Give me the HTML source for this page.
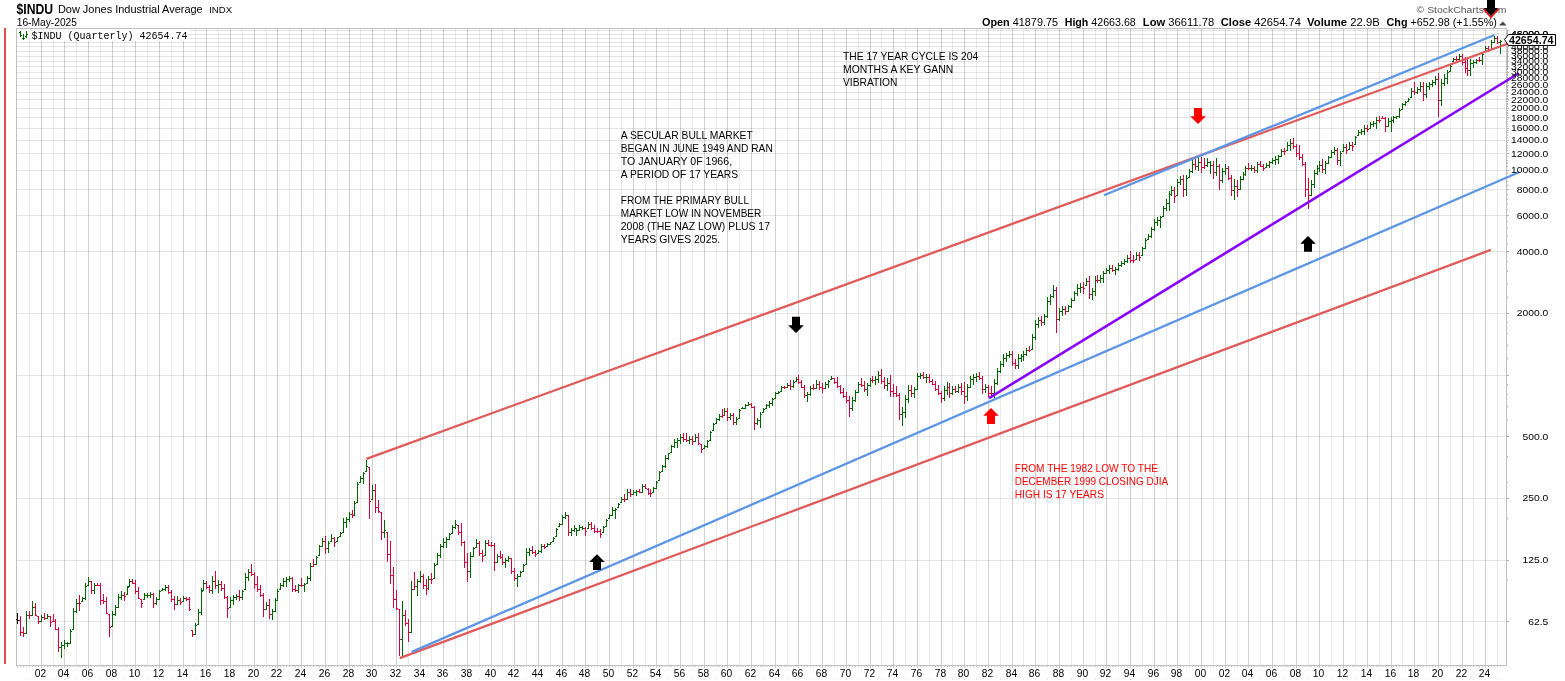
<!DOCTYPE html><html><head><meta charset="utf-8"><style>
html,body{margin:0;padding:0;background:#fff;width:1565px;height:681px;overflow:hidden}
svg{display:block;will-change:transform}
text{font-family:"Liberation Sans",sans-serif}
</style></head><body>
<svg width="1565" height="681" viewBox="0 0 1565 681">
<rect width="1565" height="681" fill="#fff"/>
<path d="M29 29h1v636h-1z M53 29h1v636h-1z M76 29h1v636h-1z M100 29h1v636h-1z M124 29h1v636h-1z M147 29h1v636h-1z M171 29h1v636h-1z M195 29h1v636h-1z M218 29h1v636h-1z M242 29h1v636h-1z M266 29h1v636h-1z M289 29h1v636h-1z M313 29h1v636h-1z M337 29h1v636h-1z M360 29h1v636h-1z M384 29h1v636h-1z M408 29h1v636h-1z M431 29h1v636h-1z M455 29h1v636h-1z M479 29h1v636h-1z M502 29h1v636h-1z M526 29h1v636h-1z M550 29h1v636h-1z M574 29h1v636h-1z M597 29h1v636h-1z M621 29h1v636h-1z M645 29h1v636h-1z M668 29h1v636h-1z M692 29h1v636h-1z M716 29h1v636h-1z M739 29h1v636h-1z M763 29h1v636h-1z M787 29h1v636h-1z M810 29h1v636h-1z M834 29h1v636h-1z M858 29h1v636h-1z M881 29h1v636h-1z M905 29h1v636h-1z M929 29h1v636h-1z M952 29h1v636h-1z M976 29h1v636h-1z M1000 29h1v636h-1z M1023 29h1v636h-1z M1047 29h1v636h-1z M1071 29h1v636h-1z M1095 29h1v636h-1z M1118 29h1v636h-1z M1142 29h1v636h-1z M1166 29h1v636h-1z M1189 29h1v636h-1z M1213 29h1v636h-1z M1237 29h1v636h-1z M1260 29h1v636h-1z M1284 29h1v636h-1z M1308 29h1v636h-1z M1331 29h1v636h-1z M1355 29h1v636h-1z M1379 29h1v636h-1z M1402 29h1v636h-1z M1426 29h1v636h-1z M1450 29h1v636h-1z M1473 29h1v636h-1z M1497 29h1v636h-1z" fill="#000" fill-opacity="0.08"/>
<path d="M41 29h1v636h-1z M64 29h1v636h-1z M88 29h1v636h-1z M112 29h1v636h-1z M135 29h1v636h-1z M159 29h1v636h-1z M183 29h1v636h-1z M206 29h1v636h-1z M230 29h1v636h-1z M254 29h1v636h-1z M277 29h1v636h-1z M301 29h1v636h-1z M325 29h1v636h-1z M349 29h1v636h-1z M372 29h1v636h-1z M396 29h1v636h-1z M420 29h1v636h-1z M443 29h1v636h-1z M467 29h1v636h-1z M491 29h1v636h-1z M514 29h1v636h-1z M538 29h1v636h-1z M562 29h1v636h-1z M585 29h1v636h-1z M609 29h1v636h-1z M633 29h1v636h-1z M656 29h1v636h-1z M680 29h1v636h-1z M704 29h1v636h-1z M727 29h1v636h-1z M751 29h1v636h-1z M775 29h1v636h-1z M798 29h1v636h-1z M822 29h1v636h-1z M846 29h1v636h-1z M870 29h1v636h-1z M893 29h1v636h-1z M917 29h1v636h-1z M941 29h1v636h-1z M964 29h1v636h-1z M988 29h1v636h-1z M1012 29h1v636h-1z M1035 29h1v636h-1z M1059 29h1v636h-1z M1083 29h1v636h-1z M1106 29h1v636h-1z M1130 29h1v636h-1z M1154 29h1v636h-1z M1177 29h1v636h-1z M1201 29h1v636h-1z M1225 29h1v636h-1z M1248 29h1v636h-1z M1272 29h1v636h-1z M1296 29h1v636h-1z M1319 29h1v636h-1z M1343 29h1v636h-1z M1367 29h1v636h-1z M1391 29h1v636h-1z M1414 29h1v636h-1z M1438 29h1v636h-1z M1462 29h1v636h-1z M1485 29h1v636h-1z" fill="#000" fill-opacity="0.18"/>
<path d="M17 621h1489v1h-1489z M17 560h1489v1h-1489z M17 498h1489v1h-1489z M17 436h1489v1h-1489z M17 375h1489v1h-1489z M17 313h1489v1h-1489z M17 251h1489v1h-1489z M17 215h1489v1h-1489z M17 189h1489v1h-1489z M17 170h1489v1h-1489z M17 153h1489v1h-1489z M17 140h1489v1h-1489z M17 128h1489v1h-1489z M17 117h1489v1h-1489z M17 108h1489v1h-1489z M17 99h1489v1h-1489z M17 92h1489v1h-1489z M17 85h1489v1h-1489z M17 78h1489v1h-1489z M17 72h1489v1h-1489z M17 66h1489v1h-1489z M17 61h1489v1h-1489z M17 56h1489v1h-1489z M17 51h1489v1h-1489z M17 46h1489v1h-1489z M17 42h1489v1h-1489z M17 38h1489v1h-1489z M17 34h1489v1h-1489z M17 30h1489v1h-1489z" fill="#000" fill-opacity="0.10"/>
<path d="M16 28h1491v638h-1491z M17 29v636h1489v-636z" fill="#c0c0c0" fill-rule="evenodd"/>
<path d="M17 666h1v1h-1z M20 666h1v1h-1z M23 666h1v1h-1z M26 666h1v1h-1z M29 666h1v1h-1z M32 666h1v1h-1z M35 666h1v1h-1z M38 666h1v1h-1z M41 666h1v1h-1z M44 666h1v1h-1z M47 666h1v1h-1z M50 666h1v1h-1z M53 666h1v1h-1z M55 666h1v1h-1z M58 666h1v1h-1z M61 666h1v1h-1z M64 666h1v1h-1z M67 666h1v1h-1z M70 666h1v1h-1z M73 666h1v1h-1z M76 666h1v1h-1z M79 666h1v1h-1z M82 666h1v1h-1z M85 666h1v1h-1z M88 666h1v1h-1z M91 666h1v1h-1z M94 666h1v1h-1z M97 666h1v1h-1z M100 666h1v1h-1z M103 666h1v1h-1z M106 666h1v1h-1z M109 666h1v1h-1z M112 666h1v1h-1z M115 666h1v1h-1z M118 666h1v1h-1z M121 666h1v1h-1z M124 666h1v1h-1z M127 666h1v1h-1z M129 666h1v1h-1z M132 666h1v1h-1z M135 666h1v1h-1z M138 666h1v1h-1z M141 666h1v1h-1z M144 666h1v1h-1z M147 666h1v1h-1z M150 666h1v1h-1z M153 666h1v1h-1z M156 666h1v1h-1z M159 666h1v1h-1z M162 666h1v1h-1z M165 666h1v1h-1z M168 666h1v1h-1z M171 666h1v1h-1z M174 666h1v1h-1z M177 666h1v1h-1z M180 666h1v1h-1z M183 666h1v1h-1z M186 666h1v1h-1z M189 666h1v1h-1z M192 666h1v1h-1z M195 666h1v1h-1z M198 666h1v1h-1z M201 666h1v1h-1z M203 666h1v1h-1z M206 666h1v1h-1z M209 666h1v1h-1z M212 666h1v1h-1z M215 666h1v1h-1z M218 666h1v1h-1z M221 666h1v1h-1z M224 666h1v1h-1z M227 666h1v1h-1z M230 666h1v1h-1z M233 666h1v1h-1z M236 666h1v1h-1z M239 666h1v1h-1z M242 666h1v1h-1z M245 666h1v1h-1z M248 666h1v1h-1z M251 666h1v1h-1z M254 666h1v1h-1z M257 666h1v1h-1z M260 666h1v1h-1z M263 666h1v1h-1z M266 666h1v1h-1z M269 666h1v1h-1z M272 666h1v1h-1z M275 666h1v1h-1z M277 666h1v1h-1z M280 666h1v1h-1z M283 666h1v1h-1z M286 666h1v1h-1z M289 666h1v1h-1z M292 666h1v1h-1z M295 666h1v1h-1z M298 666h1v1h-1z M301 666h1v1h-1z M304 666h1v1h-1z M307 666h1v1h-1z M310 666h1v1h-1z M313 666h1v1h-1z M316 666h1v1h-1z M319 666h1v1h-1z M322 666h1v1h-1z M325 666h1v1h-1z M328 666h1v1h-1z M331 666h1v1h-1z M334 666h1v1h-1z M337 666h1v1h-1z M340 666h1v1h-1z M343 666h1v1h-1z M346 666h1v1h-1z M349 666h1v1h-1z M352 666h1v1h-1z M354 666h1v1h-1z M357 666h1v1h-1z M360 666h1v1h-1z M363 666h1v1h-1z M366 666h1v1h-1z M369 666h1v1h-1z M372 666h1v1h-1z M375 666h1v1h-1z M378 666h1v1h-1z M381 666h1v1h-1z M384 666h1v1h-1z M387 666h1v1h-1z M390 666h1v1h-1z M393 666h1v1h-1z M396 666h1v1h-1z M399 666h1v1h-1z M402 666h1v1h-1z M405 666h1v1h-1z M408 666h1v1h-1z M411 666h1v1h-1z M414 666h1v1h-1z M417 666h1v1h-1z M420 666h1v1h-1z M423 666h1v1h-1z M426 666h1v1h-1z M428 666h1v1h-1z M431 666h1v1h-1z M434 666h1v1h-1z M437 666h1v1h-1z M440 666h1v1h-1z M443 666h1v1h-1z M446 666h1v1h-1z M449 666h1v1h-1z M452 666h1v1h-1z M455 666h1v1h-1z M458 666h1v1h-1z M461 666h1v1h-1z M464 666h1v1h-1z M467 666h1v1h-1z M470 666h1v1h-1z M473 666h1v1h-1z M476 666h1v1h-1z M479 666h1v1h-1z M482 666h1v1h-1z M485 666h1v1h-1z M488 666h1v1h-1z M491 666h1v1h-1z M494 666h1v1h-1z M497 666h1v1h-1z M500 666h1v1h-1z M502 666h1v1h-1z M505 666h1v1h-1z M508 666h1v1h-1z M511 666h1v1h-1z M514 666h1v1h-1z M517 666h1v1h-1z M520 666h1v1h-1z M523 666h1v1h-1z M526 666h1v1h-1z M529 666h1v1h-1z M532 666h1v1h-1z M535 666h1v1h-1z M538 666h1v1h-1z M541 666h1v1h-1z M544 666h1v1h-1z M547 666h1v1h-1z M550 666h1v1h-1z M553 666h1v1h-1z M556 666h1v1h-1z M559 666h1v1h-1z M562 666h1v1h-1z M565 666h1v1h-1z M568 666h1v1h-1z M571 666h1v1h-1z M574 666h1v1h-1z M576 666h1v1h-1z M579 666h1v1h-1z M582 666h1v1h-1z M585 666h1v1h-1z M588 666h1v1h-1z M591 666h1v1h-1z M594 666h1v1h-1z M597 666h1v1h-1z M600 666h1v1h-1z M603 666h1v1h-1z M606 666h1v1h-1z M609 666h1v1h-1z M612 666h1v1h-1z M615 666h1v1h-1z M618 666h1v1h-1z M621 666h1v1h-1z M624 666h1v1h-1z M627 666h1v1h-1z M630 666h1v1h-1z M633 666h1v1h-1z M636 666h1v1h-1z M639 666h1v1h-1z M642 666h1v1h-1z M645 666h1v1h-1z M648 666h1v1h-1z M650 666h1v1h-1z M653 666h1v1h-1z M656 666h1v1h-1z M659 666h1v1h-1z M662 666h1v1h-1z M665 666h1v1h-1z M668 666h1v1h-1z M671 666h1v1h-1z M674 666h1v1h-1z M677 666h1v1h-1z M680 666h1v1h-1z M683 666h1v1h-1z M686 666h1v1h-1z M689 666h1v1h-1z M692 666h1v1h-1z M695 666h1v1h-1z M698 666h1v1h-1z M701 666h1v1h-1z M704 666h1v1h-1z M707 666h1v1h-1z M710 666h1v1h-1z M713 666h1v1h-1z M716 666h1v1h-1z M719 666h1v1h-1z M722 666h1v1h-1z M724 666h1v1h-1z M727 666h1v1h-1z M730 666h1v1h-1z M733 666h1v1h-1z M736 666h1v1h-1z M739 666h1v1h-1z M742 666h1v1h-1z M745 666h1v1h-1z M748 666h1v1h-1z M751 666h1v1h-1z M754 666h1v1h-1z M757 666h1v1h-1z M760 666h1v1h-1z M763 666h1v1h-1z M766 666h1v1h-1z M769 666h1v1h-1z M772 666h1v1h-1z M775 666h1v1h-1z M778 666h1v1h-1z M781 666h1v1h-1z M784 666h1v1h-1z M787 666h1v1h-1z M790 666h1v1h-1z M793 666h1v1h-1z M796 666h1v1h-1z M798 666h1v1h-1z M801 666h1v1h-1z M804 666h1v1h-1z M807 666h1v1h-1z M810 666h1v1h-1z M813 666h1v1h-1z M816 666h1v1h-1z M819 666h1v1h-1z M822 666h1v1h-1z M825 666h1v1h-1z M828 666h1v1h-1z M831 666h1v1h-1z M834 666h1v1h-1z M837 666h1v1h-1z M840 666h1v1h-1z M843 666h1v1h-1z M846 666h1v1h-1z M849 666h1v1h-1z M852 666h1v1h-1z M855 666h1v1h-1z M858 666h1v1h-1z M861 666h1v1h-1z M864 666h1v1h-1z M867 666h1v1h-1z M870 666h1v1h-1z M872 666h1v1h-1z M875 666h1v1h-1z M878 666h1v1h-1z M881 666h1v1h-1z M884 666h1v1h-1z M887 666h1v1h-1z M890 666h1v1h-1z M893 666h1v1h-1z M896 666h1v1h-1z M899 666h1v1h-1z M902 666h1v1h-1z M905 666h1v1h-1z M908 666h1v1h-1z M911 666h1v1h-1z M914 666h1v1h-1z M917 666h1v1h-1z M920 666h1v1h-1z M923 666h1v1h-1z M926 666h1v1h-1z M929 666h1v1h-1z M932 666h1v1h-1z M935 666h1v1h-1z M938 666h1v1h-1z M941 666h1v1h-1z M944 666h1v1h-1z M947 666h1v1h-1z M949 666h1v1h-1z M952 666h1v1h-1z M955 666h1v1h-1z M958 666h1v1h-1z M961 666h1v1h-1z M964 666h1v1h-1z M967 666h1v1h-1z M970 666h1v1h-1z M973 666h1v1h-1z M976 666h1v1h-1z M979 666h1v1h-1z M982 666h1v1h-1z M985 666h1v1h-1z M988 666h1v1h-1z M991 666h1v1h-1z M994 666h1v1h-1z M997 666h1v1h-1z M1000 666h1v1h-1z M1003 666h1v1h-1z M1006 666h1v1h-1z M1009 666h1v1h-1z M1012 666h1v1h-1z M1015 666h1v1h-1z M1018 666h1v1h-1z M1021 666h1v1h-1z M1023 666h1v1h-1z M1026 666h1v1h-1z M1029 666h1v1h-1z M1032 666h1v1h-1z M1035 666h1v1h-1z M1038 666h1v1h-1z M1041 666h1v1h-1z M1044 666h1v1h-1z M1047 666h1v1h-1z M1050 666h1v1h-1z M1053 666h1v1h-1z M1056 666h1v1h-1z M1059 666h1v1h-1z M1062 666h1v1h-1z M1065 666h1v1h-1z M1068 666h1v1h-1z M1071 666h1v1h-1z M1074 666h1v1h-1z M1077 666h1v1h-1z M1080 666h1v1h-1z M1083 666h1v1h-1z M1086 666h1v1h-1z M1089 666h1v1h-1z M1092 666h1v1h-1z M1095 666h1v1h-1z M1097 666h1v1h-1z M1100 666h1v1h-1z M1103 666h1v1h-1z M1106 666h1v1h-1z M1109 666h1v1h-1z M1112 666h1v1h-1z M1115 666h1v1h-1z M1118 666h1v1h-1z M1121 666h1v1h-1z M1124 666h1v1h-1z M1127 666h1v1h-1z M1130 666h1v1h-1z M1133 666h1v1h-1z M1136 666h1v1h-1z M1139 666h1v1h-1z M1142 666h1v1h-1z M1145 666h1v1h-1z M1148 666h1v1h-1z M1151 666h1v1h-1z M1154 666h1v1h-1z M1157 666h1v1h-1z M1160 666h1v1h-1z M1163 666h1v1h-1z M1166 666h1v1h-1z M1169 666h1v1h-1z M1171 666h1v1h-1z M1174 666h1v1h-1z M1177 666h1v1h-1z M1180 666h1v1h-1z M1183 666h1v1h-1z M1186 666h1v1h-1z M1189 666h1v1h-1z M1192 666h1v1h-1z M1195 666h1v1h-1z M1198 666h1v1h-1z M1201 666h1v1h-1z M1204 666h1v1h-1z M1207 666h1v1h-1z M1210 666h1v1h-1z M1213 666h1v1h-1z M1216 666h1v1h-1z M1219 666h1v1h-1z M1222 666h1v1h-1z M1225 666h1v1h-1z M1228 666h1v1h-1z M1231 666h1v1h-1z M1234 666h1v1h-1z M1237 666h1v1h-1z M1240 666h1v1h-1z M1243 666h1v1h-1z M1245 666h1v1h-1z M1248 666h1v1h-1z M1251 666h1v1h-1z M1254 666h1v1h-1z M1257 666h1v1h-1z M1260 666h1v1h-1z M1263 666h1v1h-1z M1266 666h1v1h-1z M1269 666h1v1h-1z M1272 666h1v1h-1z M1275 666h1v1h-1z M1278 666h1v1h-1z M1281 666h1v1h-1z M1284 666h1v1h-1z M1287 666h1v1h-1z M1290 666h1v1h-1z M1293 666h1v1h-1z M1296 666h1v1h-1z M1299 666h1v1h-1z M1302 666h1v1h-1z M1305 666h1v1h-1z M1308 666h1v1h-1z M1311 666h1v1h-1z M1314 666h1v1h-1z M1317 666h1v1h-1z M1319 666h1v1h-1z M1322 666h1v1h-1z M1325 666h1v1h-1z M1328 666h1v1h-1z M1331 666h1v1h-1z M1334 666h1v1h-1z M1337 666h1v1h-1z M1340 666h1v1h-1z M1343 666h1v1h-1z M1346 666h1v1h-1z M1349 666h1v1h-1z M1352 666h1v1h-1z M1355 666h1v1h-1z M1358 666h1v1h-1z M1361 666h1v1h-1z M1364 666h1v1h-1z M1367 666h1v1h-1z M1370 666h1v1h-1z M1373 666h1v1h-1z M1376 666h1v1h-1z M1379 666h1v1h-1z M1382 666h1v1h-1z M1385 666h1v1h-1z M1388 666h1v1h-1z M1391 666h1v1h-1z M1393 666h1v1h-1z M1396 666h1v1h-1z M1399 666h1v1h-1z M1402 666h1v1h-1z M1405 666h1v1h-1z M1408 666h1v1h-1z M1411 666h1v1h-1z M1414 666h1v1h-1z M1417 666h1v1h-1z M1420 666h1v1h-1z M1423 666h1v1h-1z M1426 666h1v1h-1z M1429 666h1v1h-1z M1432 666h1v1h-1z M1435 666h1v1h-1z M1438 666h1v1h-1z M1441 666h1v1h-1z M1444 666h1v1h-1z M1447 666h1v1h-1z M1450 666h1v1h-1z M1453 666h1v1h-1z M1456 666h1v1h-1z M1459 666h1v1h-1z M1462 666h1v1h-1z M1465 666h1v1h-1z M1467 666h1v1h-1z M1470 666h1v1h-1z M1473 666h1v1h-1z M1476 666h1v1h-1z M1479 666h1v1h-1z M1482 666h1v1h-1z M1485 666h1v1h-1z M1488 666h1v1h-1z M1491 666h1v1h-1z M1494 666h1v1h-1z M1497 666h1v1h-1z M1500 666h1v1h-1z M17 667h1v1h-1z M41 667h1v1h-1z M64 667h1v1h-1z M88 667h1v1h-1z M112 667h1v1h-1z M135 667h1v1h-1z M159 667h1v1h-1z M183 667h1v1h-1z M206 667h1v1h-1z M230 667h1v1h-1z M254 667h1v1h-1z M277 667h1v1h-1z M301 667h1v1h-1z M325 667h1v1h-1z M349 667h1v1h-1z M372 667h1v1h-1z M396 667h1v1h-1z M420 667h1v1h-1z M443 667h1v1h-1z M467 667h1v1h-1z M491 667h1v1h-1z M514 667h1v1h-1z M538 667h1v1h-1z M562 667h1v1h-1z M585 667h1v1h-1z M609 667h1v1h-1z M633 667h1v1h-1z M656 667h1v1h-1z M680 667h1v1h-1z M704 667h1v1h-1z M727 667h1v1h-1z M751 667h1v1h-1z M775 667h1v1h-1z M798 667h1v1h-1z M822 667h1v1h-1z M846 667h1v1h-1z M870 667h1v1h-1z M893 667h1v1h-1z M917 667h1v1h-1z M941 667h1v1h-1z M964 667h1v1h-1z M988 667h1v1h-1z M1012 667h1v1h-1z M1035 667h1v1h-1z M1059 667h1v1h-1z M1083 667h1v1h-1z M1106 667h1v1h-1z M1130 667h1v1h-1z M1154 667h1v1h-1z M1177 667h1v1h-1z M1201 667h1v1h-1z M1225 667h1v1h-1z M1248 667h1v1h-1z M1272 667h1v1h-1z M1296 667h1v1h-1z M1319 667h1v1h-1z M1343 667h1v1h-1z M1367 667h1v1h-1z M1391 667h1v1h-1z M1414 667h1v1h-1z M1438 667h1v1h-1z M1462 667h1v1h-1z M1485 667h1v1h-1z" fill="#c8c8c8"/>
<path d="M29 679h1v1h-1z M41 679h1v1h-1z M53 679h1v1h-1z M64 679h1v1h-1z M76 679h1v1h-1z M88 679h1v1h-1z M100 679h1v1h-1z M112 679h1v1h-1z M124 679h1v1h-1z M135 679h1v1h-1z M147 679h1v1h-1z M159 679h1v1h-1z M171 679h1v1h-1z M183 679h1v1h-1z M195 679h1v1h-1z M206 679h1v1h-1z M218 679h1v1h-1z M230 679h1v1h-1z M242 679h1v1h-1z M254 679h1v1h-1z M266 679h1v1h-1z M277 679h1v1h-1z M289 679h1v1h-1z M301 679h1v1h-1z M313 679h1v1h-1z M325 679h1v1h-1z M337 679h1v1h-1z M349 679h1v1h-1z M360 679h1v1h-1z M372 679h1v1h-1z M384 679h1v1h-1z M396 679h1v1h-1z M408 679h1v1h-1z M420 679h1v1h-1z M431 679h1v1h-1z M443 679h1v1h-1z M455 679h1v1h-1z M467 679h1v1h-1z M479 679h1v1h-1z M491 679h1v1h-1z M502 679h1v1h-1z M514 679h1v1h-1z M526 679h1v1h-1z M538 679h1v1h-1z M550 679h1v1h-1z M562 679h1v1h-1z M574 679h1v1h-1z M585 679h1v1h-1z M597 679h1v1h-1z M609 679h1v1h-1z M621 679h1v1h-1z M633 679h1v1h-1z M645 679h1v1h-1z M656 679h1v1h-1z M668 679h1v1h-1z M680 679h1v1h-1z M692 679h1v1h-1z M704 679h1v1h-1z M716 679h1v1h-1z M727 679h1v1h-1z M739 679h1v1h-1z M751 679h1v1h-1z M763 679h1v1h-1z M775 679h1v1h-1z M787 679h1v1h-1z M798 679h1v1h-1z M810 679h1v1h-1z M822 679h1v1h-1z M834 679h1v1h-1z M846 679h1v1h-1z M858 679h1v1h-1z M870 679h1v1h-1z M881 679h1v1h-1z M893 679h1v1h-1z M905 679h1v1h-1z M917 679h1v1h-1z M929 679h1v1h-1z M941 679h1v1h-1z M952 679h1v1h-1z M964 679h1v1h-1z M976 679h1v1h-1z M988 679h1v1h-1z M1000 679h1v1h-1z M1012 679h1v1h-1z M1023 679h1v1h-1z M1035 679h1v1h-1z M1047 679h1v1h-1z M1059 679h1v1h-1z M1071 679h1v1h-1z M1083 679h1v1h-1z M1095 679h1v1h-1z M1106 679h1v1h-1z M1118 679h1v1h-1z M1130 679h1v1h-1z M1142 679h1v1h-1z M1154 679h1v1h-1z M1166 679h1v1h-1z M1177 679h1v1h-1z M1189 679h1v1h-1z M1201 679h1v1h-1z M1213 679h1v1h-1z M1225 679h1v1h-1z M1237 679h1v1h-1z M1248 679h1v1h-1z M1260 679h1v1h-1z M1272 679h1v1h-1z M1284 679h1v1h-1z M1296 679h1v1h-1z M1308 679h1v1h-1z M1319 679h1v1h-1z M1331 679h1v1h-1z M1343 679h1v1h-1z M1355 679h1v1h-1z M1367 679h1v1h-1z M1379 679h1v1h-1z M1391 679h1v1h-1z M1402 679h1v1h-1z M1414 679h1v1h-1z M1426 679h1v1h-1z M1438 679h1v1h-1z M1450 679h1v1h-1z M1462 679h1v1h-1z M1473 679h1v1h-1z M1485 679h1v1h-1z M1497 679h1v1h-1z" fill="#e0e0e0"/>
<path d="M1507 621h2v1h-2z M1507 560h2v1h-2z M1507 498h2v1h-2z M1507 436h2v1h-2z M1507 375h2v1h-2z M1507 313h2v1h-2z M1507 251h2v1h-2z M1507 215h2v1h-2z M1507 189h2v1h-2z M1507 170h2v1h-2z M1507 153h2v1h-2z M1507 140h2v1h-2z M1507 128h2v1h-2z M1507 117h2v1h-2z M1507 108h2v1h-2z M1507 99h2v1h-2z M1507 92h2v1h-2z M1507 85h2v1h-2z M1507 78h2v1h-2z M1507 72h2v1h-2z M1507 66h2v1h-2z M1507 61h2v1h-2z M1507 56h2v1h-2z M1507 51h2v1h-2z M1507 46h2v1h-2z M1507 42h2v1h-2z M1507 38h2v1h-2z M1507 34h2v1h-2z M1507 30h2v1h-2z M1507 580h1v1h-1z M1507 518h1v1h-1z M1507 482h1v1h-1z M1507 456h1v1h-1z M1507 518h1v1h-1z M1507 482h1v1h-1z M1507 456h1v1h-1z M1507 436h1v1h-1z M1507 420h1v1h-1z M1507 406h1v1h-1z M1507 394h1v1h-1z M1507 384h1v1h-1z M1507 358h1v1h-1z M1507 345h1v1h-1z M1507 333h1v1h-1z M1507 322h1v1h-1z M1507 297h1v1h-1z M1507 283h1v1h-1z M1507 271h1v1h-1z M1507 261h1v1h-1z M1507 251h1v1h-1z M1507 243h1v1h-1z M1507 235h1v1h-1z M1507 228h1v1h-1z M1507 221h1v1h-1z M1507 215h1v1h-1z M1507 209h1v1h-1z M1507 204h1v1h-1z M1507 199h1v1h-1z M1507 194h1v1h-1z M1507 189h1v1h-1z M1507 185h1v1h-1z M1507 181h1v1h-1z M1507 177h1v1h-1z M1507 173h1v1h-1z M1507 170h1v1h-1z M1507 166h1v1h-1z M1507 163h1v1h-1z M1507 160h1v1h-1z M1507 156h1v1h-1z M1507 153h1v1h-1z M1507 150h1v1h-1z M1507 148h1v1h-1z M1507 145h1v1h-1z M1507 142h1v1h-1z M1507 140h1v1h-1z M1507 137h1v1h-1z M1507 135h1v1h-1z M1507 132h1v1h-1z M1507 130h1v1h-1z M1507 128h1v1h-1z M1507 126h1v1h-1z M1507 123h1v1h-1z M1507 121h1v1h-1z M1507 119h1v1h-1z M1507 117h1v1h-1z M1507 115h1v1h-1z M1507 113h1v1h-1z M1507 112h1v1h-1z M1507 110h1v1h-1z M1507 108h1v1h-1z M1507 106h1v1h-1z M1507 104h1v1h-1z M1507 103h1v1h-1z M1507 101h1v1h-1z M1507 99h1v1h-1z M1507 98h1v1h-1z M1507 96h1v1h-1z M1507 95h1v1h-1z M1507 93h1v1h-1z M1507 92h1v1h-1z M1507 90h1v1h-1z M1507 89h1v1h-1z M1507 87h1v1h-1z M1507 86h1v1h-1z M1507 85h1v1h-1z M1507 83h1v1h-1z M1507 82h1v1h-1z M1507 81h1v1h-1z M1507 79h1v1h-1z M1507 78h1v1h-1z M1507 77h1v1h-1z M1507 75h1v1h-1z M1507 74h1v1h-1z M1507 73h1v1h-1z M1507 72h1v1h-1z M1507 71h1v1h-1z M1507 69h1v1h-1z M1507 68h1v1h-1z M1507 67h1v1h-1z M1507 66h1v1h-1z M1507 65h1v1h-1z M1507 64h1v1h-1z M1507 63h1v1h-1z M1507 62h1v1h-1z M1507 61h1v1h-1z M1507 60h1v1h-1z M1507 59h1v1h-1z M1507 58h1v1h-1z M1507 57h1v1h-1z M1507 56h1v1h-1z M1507 55h1v1h-1z M1507 54h1v1h-1z M1507 53h1v1h-1z M1507 52h1v1h-1z M1507 51h1v1h-1z M1507 50h1v1h-1z M1507 49h1v1h-1z M1507 48h1v1h-1z M1507 47h1v1h-1z M1507 46h1v1h-1z M1507 45h1v1h-1z M1507 44h1v1h-1z M1507 44h1v1h-1z M1507 43h1v1h-1z M1507 42h1v1h-1z M1507 41h1v1h-1z M1507 40h1v1h-1z M1507 39h1v1h-1z M1507 39h1v1h-1z M1507 38h1v1h-1z M1507 37h1v1h-1z M1507 36h1v1h-1z M1507 35h1v1h-1z M1507 35h1v1h-1z M1507 34h1v1h-1z M1507 33h1v1h-1z M1507 32h1v1h-1z M1507 31h1v1h-1z M1507 31h1v1h-1z" fill="#b0b0b0"/>
<path d="M26 611h1v23h-1z M25 633h1v1h-1z M27 615h1v1h-1z M32 601h1v15h-1z M31 615h1v1h-1z M33 607h1v1h-1z M41 615h1v7h-1z M40 621h1v1h-1z M42 617h1v1h-1z M47 614h1v5h-1z M46 618h1v1h-1z M48 616h1v1h-1z M61 642h1v16h-1z M60 647h1v1h-1z M62 645h1v1h-1z M64 640h1v9h-1z M63 645h1v1h-1z M65 643h1v1h-1z M67 642h1v5h-1z M66 643h1v1h-1z M68 643h1v1h-1z M70 629h1v15h-1z M69 643h1v1h-1z M71 631h1v1h-1z M73 608h1v22h-1z M72 629h1v1h-1z M74 611h1v1h-1z M76 599h1v14h-1z M75 611h1v1h-1z M77 603h1v1h-1z M82 597h1v5h-1z M81 601h1v1h-1z M83 598h1v1h-1z M85 583h1v17h-1z M84 598h1v1h-1z M86 586h1v1h-1z M88 577h1v9h-1z M87 585h1v1h-1z M89 581h1v1h-1z M94 583h1v11h-1z M93 590h1v1h-1z M95 585h1v1h-1z M112 611h1v16h-1z M111 626h1v1h-1z M113 614h1v1h-1z M115 605h1v11h-1z M114 614h1v1h-1z M116 607h1v1h-1z M118 594h1v14h-1z M117 607h1v1h-1z M119 597h1v1h-1z M121 591h1v9h-1z M120 597h1v1h-1z M122 595h1v1h-1z M127 586h1v9h-1z M126 594h1v1h-1z M128 587h1v1h-1z M129 579h1v8h-1z M128 586h1v1h-1z M130 581h1v1h-1z M144 593h1v7h-1z M143 599h1v1h-1z M145 595h1v1h-1z M147 593h1v5h-1z M146 595h1v1h-1z M148 595h1v1h-1z M150 592h1v6h-1z M149 595h1v1h-1z M151 594h1v1h-1z M156 597h1v8h-1z M155 603h1v1h-1z M157 599h1v1h-1z M159 590h1v10h-1z M158 599h1v1h-1z M160 591h1v1h-1z M162 588h1v3h-1z M161 590h1v1h-1z M163 589h1v1h-1z M165 585h1v6h-1z M164 589h1v1h-1z M166 587h1v1h-1z M177 596h1v9h-1z M176 604h1v1h-1z M178 600h1v1h-1z M183 596h1v6h-1z M182 601h1v1h-1z M184 598h1v1h-1z M195 623h1v12h-1z M194 634h1v1h-1z M196 625h1v1h-1z M198 609h1v16h-1z M197 624h1v1h-1z M199 612h1v1h-1z M201 588h1v27h-1z M200 612h1v1h-1z M202 591h1v1h-1z M203 580h1v11h-1z M202 590h1v1h-1z M204 583h1v1h-1z M212 576h1v18h-1z M211 590h1v1h-1z M213 581h1v1h-1z M218 580h1v13h-1z M217 585h1v1h-1z M219 584h1v1h-1z M230 597h1v11h-1z M229 607h1v1h-1z M231 600h1v1h-1z M233 595h1v10h-1z M232 600h1v1h-1z M234 597h1v1h-1z M236 594h1v6h-1z M235 597h1v1h-1z M237 596h1v1h-1z M242 590h1v10h-1z M241 597h1v1h-1z M243 591h1v1h-1z M245 573h1v17h-1z M244 589h1v1h-1z M246 577h1v1h-1z M248 569h1v12h-1z M247 577h1v1h-1z M249 572h1v1h-1z M266 602h1v8h-1z M265 609h1v1h-1z M267 605h1v1h-1z M272 609h1v11h-1z M271 614h1v1h-1z M273 611h1v1h-1z M275 598h1v14h-1z M274 611h1v1h-1z M276 600h1v1h-1z M277 589h1v12h-1z M276 600h1v1h-1z M278 591h1v1h-1z M280 583h1v7h-1z M279 589h1v1h-1z M281 585h1v1h-1z M283 578h1v9h-1z M282 585h1v1h-1z M284 581h1v1h-1z M286 577h1v10h-1z M285 581h1v1h-1z M287 579h1v1h-1z M289 576h1v6h-1z M288 579h1v1h-1z M290 578h1v1h-1z M298 584h1v9h-1z M297 590h1v1h-1z M299 585h1v1h-1z M304 583h1v9h-1z M303 585h1v1h-1z M305 584h1v1h-1z M307 576h1v8h-1z M306 583h1v1h-1z M308 578h1v1h-1z M310 563h1v18h-1z M309 578h1v1h-1z M311 566h1v1h-1z M316 556h1v9h-1z M315 564h1v1h-1z M317 557h1v1h-1z M319 545h1v11h-1z M318 555h1v1h-1z M320 546h1v1h-1z M322 538h1v9h-1z M321 546h1v1h-1z M323 541h1v1h-1z M328 541h1v12h-1z M327 548h1v1h-1z M329 543h1v1h-1z M331 534h1v8h-1z M330 541h1v1h-1z M332 538h1v1h-1z M337 537h1v5h-1z M336 541h1v1h-1z M338 537h1v1h-1z M340 532h1v5h-1z M339 536h1v1h-1z M341 533h1v1h-1z M343 518h1v15h-1z M342 532h1v1h-1z M344 522h1v1h-1z M346 517h1v11h-1z M345 522h1v1h-1z M347 519h1v1h-1z M349 512h1v10h-1z M348 519h1v1h-1z M350 514h1v1h-1z M354 501h1v15h-1z M353 515h1v1h-1z M355 503h1v1h-1z M357 482h1v21h-1z M356 502h1v1h-1z M358 484h1v1h-1z M360 476h1v7h-1z M359 482h1v1h-1z M361 478h1v1h-1z M363 472h1v12h-1z M362 478h1v1h-1z M364 473h1v1h-1z M366 460h1v12h-1z M365 471h1v1h-1z M367 466h1v1h-1z M372 485h1v15h-1z M371 499h1v1h-1z M373 490h1v1h-1z M384 520h1v18h-1z M383 532h1v1h-1z M385 530h1v1h-1z M402 601h1v56h-1z M401 639h1v1h-1z M403 615h1v1h-1z M411 581h1v52h-1z M410 632h1v1h-1z M412 589h1v1h-1z M417 579h1v17h-1z M416 586h1v1h-1z M418 581h1v1h-1z M420 571h1v12h-1z M419 581h1v1h-1z M421 576h1v1h-1z M428 576h1v14h-1z M427 588h1v1h-1z M429 579h1v1h-1z M434 563h1v16h-1z M433 578h1v1h-1z M435 565h1v1h-1z M437 553h1v12h-1z M436 564h1v1h-1z M438 555h1v1h-1z M440 544h1v14h-1z M439 555h1v1h-1z M441 546h1v1h-1z M443 538h1v10h-1z M442 546h1v1h-1z M444 542h1v1h-1z M446 537h1v11h-1z M445 542h1v1h-1z M447 539h1v1h-1z M449 533h1v7h-1z M448 539h1v1h-1z M450 534h1v1h-1z M452 525h1v9h-1z M451 533h1v1h-1z M453 527h1v1h-1z M455 520h1v9h-1z M454 527h1v1h-1z M456 524h1v1h-1z M470 552h1v26h-1z M469 571h1v1h-1z M471 556h1v1h-1z M473 547h1v10h-1z M472 556h1v1h-1z M474 548h1v1h-1z M476 539h1v9h-1z M475 547h1v1h-1z M477 543h1v1h-1z M485 540h1v16h-1z M484 555h1v1h-1z M486 543h1v1h-1z M497 554h1v9h-1z M496 562h1v1h-1z M498 556h1v1h-1z M505 558h1v10h-1z M504 562h1v1h-1z M506 560h1v1h-1z M508 556h1v6h-1z M507 560h1v1h-1z M509 558h1v1h-1z M517 574h1v13h-1z M516 578h1v1h-1z M518 576h1v1h-1z M520 571h1v6h-1z M519 576h1v1h-1z M521 572h1v1h-1z M523 564h1v8h-1z M522 571h1v1h-1z M524 565h1v1h-1z M526 548h1v17h-1z M525 564h1v1h-1z M527 552h1v1h-1z M529 548h1v8h-1z M528 552h1v1h-1z M530 550h1v1h-1z M538 550h1v4h-1z M537 553h1v1h-1z M539 551h1v1h-1z M541 544h1v9h-1z M540 551h1v1h-1z M542 546h1v1h-1z M547 543h1v4h-1z M546 546h1v1h-1z M548 544h1v1h-1z M550 542h1v3h-1z M549 544h1v1h-1z M551 542h1v1h-1z M553 537h1v5h-1z M552 541h1v1h-1z M554 538h1v1h-1z M556 528h1v9h-1z M555 536h1v1h-1z M557 529h1v1h-1z M559 523h1v4h-1z M558 526h1v1h-1z M560 524h1v1h-1z M562 515h1v10h-1z M561 524h1v1h-1z M563 517h1v1h-1z M565 512h1v7h-1z M564 517h1v1h-1z M566 515h1v1h-1z M571 528h1v8h-1z M570 532h1v1h-1z M572 530h1v1h-1z M574 525h1v7h-1z M573 530h1v1h-1z M575 528h1v1h-1z M576 528h1v8h-1z M575 528h1v1h-1z M577 530h1v1h-1z M579 525h1v6h-1z M578 530h1v1h-1z M580 527h1v1h-1z M582 526h1v4h-1z M581 527h1v1h-1z M583 528h1v1h-1z M588 522h1v7h-1z M587 528h1v1h-1z M589 524h1v1h-1z M603 526h1v7h-1z M602 532h1v1h-1z M604 527h1v1h-1z M606 519h1v8h-1z M605 526h1v1h-1z M607 520h1v1h-1z M609 514h1v5h-1z M608 518h1v1h-1z M610 515h1v1h-1z M612 507h1v9h-1z M611 515h1v1h-1z M613 510h1v1h-1z M615 508h1v11h-1z M614 510h1v1h-1z M616 509h1v1h-1z M618 503h1v5h-1z M617 507h1v1h-1z M619 504h1v1h-1z M621 497h1v6h-1z M620 502h1v1h-1z M622 499h1v1h-1z M627 489h1v11h-1z M626 499h1v1h-1z M628 492h1v1h-1z M633 490h1v5h-1z M632 494h1v1h-1z M634 492h1v1h-1z M636 490h1v6h-1z M635 492h1v1h-1z M637 491h1v1h-1z M642 484h1v9h-1z M641 492h1v1h-1z M643 486h1v1h-1z M653 487h1v6h-1z M652 492h1v1h-1z M654 488h1v1h-1z M656 481h1v8h-1z M655 488h1v1h-1z M657 482h1v1h-1z M659 471h1v10h-1z M658 480h1v1h-1z M660 472h1v1h-1z M662 465h1v7h-1z M661 471h1v1h-1z M663 466h1v1h-1z M665 455h1v13h-1z M664 466h1v1h-1z M666 458h1v1h-1z M668 453h1v7h-1z M667 458h1v1h-1z M669 453h1v1h-1z M671 445h1v8h-1z M670 452h1v1h-1z M672 446h1v1h-1z M674 439h1v9h-1z M673 446h1v1h-1z M675 442h1v1h-1z M677 438h1v10h-1z M676 442h1v1h-1z M678 440h1v1h-1z M680 434h1v10h-1z M679 440h1v1h-1z M681 437h1v1h-1z M689 436h1v8h-1z M688 440h1v1h-1z M690 439h1v1h-1z M695 434h1v8h-1z M694 441h1v1h-1z M696 437h1v1h-1z M704 445h1v4h-1z M703 448h1v1h-1z M705 446h1v1h-1z M707 440h1v8h-1z M706 446h1v1h-1z M708 441h1v1h-1z M710 431h1v10h-1z M709 440h1v1h-1z M711 432h1v1h-1z M713 423h1v8h-1z M712 430h1v1h-1z M714 424h1v1h-1z M716 418h1v6h-1z M715 423h1v1h-1z M717 419h1v1h-1z M719 414h1v7h-1z M718 419h1v1h-1z M720 416h1v1h-1z M724 408h1v8h-1z M723 415h1v1h-1z M725 411h1v1h-1z M730 413h1v7h-1z M729 417h1v1h-1z M731 415h1v1h-1z M736 417h1v8h-1z M735 422h1v1h-1z M737 419h1v1h-1z M739 409h1v10h-1z M738 418h1v1h-1z M740 410h1v1h-1z M742 407h1v2h-1z M741 408h1v1h-1z M743 408h1v1h-1z M745 404h1v5h-1z M744 408h1v1h-1z M746 405h1v1h-1z M748 402h1v4h-1z M747 405h1v1h-1z M749 404h1v1h-1z M757 418h1v7h-1z M756 423h1v1h-1z M758 420h1v1h-1z M760 412h1v16h-1z M759 420h1v1h-1z M761 414h1v1h-1z M763 408h1v5h-1z M762 412h1v1h-1z M764 409h1v1h-1z M766 404h1v5h-1z M765 408h1v1h-1z M767 405h1v1h-1z M769 401h1v7h-1z M768 405h1v1h-1z M770 403h1v1h-1z M772 398h1v8h-1z M771 403h1v1h-1z M773 399h1v1h-1z M775 392h1v7h-1z M774 398h1v1h-1z M776 393h1v1h-1z M778 391h1v3h-1z M777 393h1v1h-1z M779 392h1v1h-1z M781 386h1v6h-1z M780 391h1v1h-1z M782 387h1v1h-1z M787 383h1v5h-1z M786 387h1v1h-1z M788 385h1v1h-1z M793 380h1v8h-1z M792 386h1v1h-1z M794 382h1v1h-1z M796 377h1v5h-1z M795 381h1v1h-1z M797 379h1v1h-1z M807 392h1v10h-1z M806 395h1v1h-1z M808 394h1v1h-1z M810 386h1v10h-1z M809 394h1v1h-1z M811 388h1v1h-1z M816 380h1v9h-1z M815 388h1v1h-1z M817 384h1v1h-1z M825 382h1v7h-1z M824 388h1v1h-1z M826 384h1v1h-1z M828 380h1v8h-1z M827 384h1v1h-1z M829 381h1v1h-1z M831 376h1v4h-1z M830 379h1v1h-1z M832 378h1v1h-1z M852 397h1v14h-1z M851 408h1v1h-1z M853 400h1v1h-1z M855 390h1v12h-1z M854 400h1v1h-1z M856 392h1v1h-1z M858 382h1v11h-1z M857 392h1v1h-1z M859 384h1v1h-1z M867 383h1v13h-1z M866 389h1v1h-1z M868 385h1v1h-1z M870 378h1v9h-1z M869 385h1v1h-1z M871 380h1v1h-1z M875 376h1v9h-1z M874 380h1v1h-1z M876 379h1v1h-1z M878 371h1v12h-1z M877 379h1v1h-1z M879 375h1v1h-1z M887 378h1v13h-1z M886 385h1v1h-1z M888 383h1v1h-1z M902 407h1v19h-1z M901 414h1v1h-1z M903 412h1v1h-1z M905 395h1v23h-1z M904 412h1v1h-1z M906 399h1v1h-1z M908 385h1v18h-1z M907 399h1v1h-1z M909 390h1v1h-1z M914 387h1v11h-1z M913 393h1v1h-1z M915 389h1v1h-1z M917 373h1v17h-1z M916 389h1v1h-1z M918 376h1v1h-1z M920 373h1v6h-1z M919 376h1v1h-1z M921 375h1v1h-1z M926 374h1v9h-1z M925 377h1v1h-1z M927 377h1v1h-1z M944 386h1v15h-1z M943 398h1v1h-1z M945 390h1v1h-1z M947 382h1v13h-1z M946 390h1v1h-1z M948 387h1v1h-1z M952 386h1v9h-1z M951 393h1v1h-1z M953 389h1v1h-1z M958 384h1v9h-1z M957 391h1v1h-1z M959 387h1v1h-1z M967 384h1v17h-1z M966 396h1v1h-1z M968 387h1v1h-1z M970 376h1v12h-1z M969 387h1v1h-1z M971 379h1v1h-1z M973 374h1v11h-1z M972 379h1v1h-1z M974 377h1v1h-1z M976 373h1v9h-1z M975 377h1v1h-1z M977 376h1v1h-1z M985 384h1v9h-1z M984 389h1v1h-1z M986 387h1v1h-1z M994 379h1v19h-1z M993 393h1v1h-1z M995 383h1v1h-1z M997 368h1v17h-1z M996 383h1v1h-1z M998 371h1v1h-1z M1000 361h1v12h-1z M999 371h1v1h-1z M1001 364h1v1h-1z M1003 354h1v13h-1z M1002 364h1v1h-1z M1004 358h1v1h-1z M1006 353h1v9h-1z M1005 358h1v1h-1z M1007 355h1v1h-1z M1009 351h1v7h-1z M1008 355h1v1h-1z M1010 354h1v1h-1z M1018 354h1v15h-1z M1017 365h1v1h-1z M1019 358h1v1h-1z M1021 354h1v8h-1z M1020 358h1v1h-1z M1022 356h1v1h-1z M1023 351h1v10h-1z M1022 356h1v1h-1z M1024 354h1v1h-1z M1026 348h1v8h-1z M1025 354h1v1h-1z M1027 350h1v1h-1z M1032 334h1v16h-1z M1031 349h1v1h-1z M1033 337h1v1h-1z M1035 320h1v20h-1z M1034 337h1v1h-1z M1036 324h1v1h-1z M1038 317h1v11h-1z M1037 324h1v1h-1z M1039 320h1v1h-1z M1044 314h1v11h-1z M1043 322h1v1h-1z M1045 316h1v1h-1z M1047 297h1v21h-1z M1046 316h1v1h-1z M1048 301h1v1h-1z M1050 294h1v11h-1z M1049 301h1v1h-1z M1051 296h1v1h-1z M1053 285h1v13h-1z M1052 296h1v1h-1z M1054 290h1v1h-1z M1059 308h1v13h-1z M1058 319h1v1h-1z M1060 311h1v1h-1z M1062 306h1v10h-1z M1061 311h1v1h-1z M1063 309h1v1h-1z M1068 305h1v7h-1z M1067 311h1v1h-1z M1069 306h1v1h-1z M1071 298h1v10h-1z M1070 306h1v1h-1z M1072 300h1v1h-1z M1074 291h1v10h-1z M1073 300h1v1h-1z M1075 293h1v1h-1z M1077 284h1v12h-1z M1076 293h1v1h-1z M1078 288h1v1h-1z M1080 283h1v10h-1z M1079 288h1v1h-1z M1081 287h1v1h-1z M1086 278h1v8h-1z M1085 285h1v1h-1z M1087 281h1v1h-1z M1092 288h1v12h-1z M1091 294h1v1h-1z M1093 291h1v1h-1z M1095 276h1v20h-1z M1094 291h1v1h-1z M1096 280h1v1h-1z M1100 275h1v8h-1z M1099 280h1v1h-1z M1101 278h1v1h-1z M1103 271h1v12h-1z M1102 278h1v1h-1z M1104 273h1v1h-1z M1106 268h1v6h-1z M1105 273h1v1h-1z M1107 270h1v1h-1z M1109 265h1v9h-1z M1108 270h1v1h-1z M1110 268h1v1h-1z M1115 267h1v8h-1z M1114 270h1v1h-1z M1116 269h1v1h-1z M1118 263h1v8h-1z M1117 269h1v1h-1z M1119 265h1v1h-1z M1121 261h1v6h-1z M1120 265h1v1h-1z M1122 263h1v1h-1z M1124 259h1v6h-1z M1123 263h1v1h-1z M1125 261h1v1h-1z M1127 255h1v8h-1z M1126 261h1v1h-1z M1128 258h1v1h-1z M1136 252h1v8h-1z M1135 259h1v1h-1z M1137 255h1v1h-1z M1142 247h1v9h-1z M1141 255h1v1h-1z M1143 248h1v1h-1z M1145 238h1v11h-1z M1144 248h1v1h-1z M1146 240h1v1h-1z M1148 234h1v6h-1z M1147 239h1v1h-1z M1149 236h1v1h-1z M1151 227h1v11h-1z M1150 236h1v1h-1z M1152 229h1v1h-1z M1154 219h1v12h-1z M1153 229h1v1h-1z M1155 222h1v1h-1z M1157 217h1v9h-1z M1156 222h1v1h-1z M1158 220h1v1h-1z M1160 216h1v12h-1z M1159 220h1v1h-1z M1161 217h1v1h-1z M1163 206h1v11h-1z M1162 216h1v1h-1z M1164 208h1v1h-1z M1166 199h1v12h-1z M1165 208h1v1h-1z M1167 203h1v1h-1z M1169 191h1v20h-1z M1168 203h1v1h-1z M1170 194h1v1h-1z M1171 186h1v10h-1z M1170 194h1v1h-1z M1172 190h1v1h-1z M1177 179h1v17h-1z M1176 195h1v1h-1z M1178 182h1v1h-1z M1180 176h1v9h-1z M1179 182h1v1h-1z M1181 179h1v1h-1z M1186 175h1v21h-1z M1185 189h1v1h-1z M1187 178h1v1h-1z M1189 169h1v9h-1z M1188 177h1v1h-1z M1190 171h1v1h-1z M1192 160h1v13h-1z M1191 171h1v1h-1z M1193 164h1v1h-1z M1198 157h1v14h-1z M1197 166h1v1h-1z M1199 162h1v1h-1z M1207 158h1v9h-1z M1206 165h1v1h-1z M1208 162h1v1h-1z M1210 161h1v13h-1z M1209 162h1v1h-1z M1211 165h1v1h-1z M1216 158h1v18h-1z M1215 172h1v1h-1z M1217 166h1v1h-1z M1222 168h1v15h-1z M1221 180h1v1h-1z M1223 171h1v1h-1z M1225 164h1v11h-1z M1224 171h1v1h-1z M1226 168h1v1h-1z M1234 179h1v21h-1z M1233 190h1v1h-1z M1235 186h1v1h-1z M1240 176h1v14h-1z M1239 189h1v1h-1z M1241 179h1v1h-1z M1243 172h1v8h-1z M1242 179h1v1h-1z M1244 174h1v1h-1z M1245 166h1v10h-1z M1244 174h1v1h-1z M1246 168h1v1h-1z M1251 165h1v6h-1z M1250 168h1v1h-1z M1252 168h1v1h-1z M1257 162h1v11h-1z M1256 170h1v1h-1z M1258 164h1v1h-1z M1266 163h1v5h-1z M1265 167h1v1h-1z M1267 165h1v1h-1z M1269 161h1v7h-1z M1268 165h1v1h-1z M1270 162h1v1h-1z M1272 158h1v6h-1z M1271 162h1v1h-1z M1273 160h1v1h-1z M1275 156h1v9h-1z M1274 160h1v1h-1z M1276 159h1v1h-1z M1278 155h1v9h-1z M1277 159h1v1h-1z M1279 156h1v1h-1z M1281 149h1v8h-1z M1280 156h1v1h-1z M1282 151h1v1h-1z M1287 142h1v9h-1z M1286 150h1v1h-1z M1288 145h1v1h-1z M1290 139h1v12h-1z M1289 145h1v1h-1z M1291 143h1v1h-1z M1311 180h1v16h-1z M1310 195h1v1h-1z M1312 184h1v1h-1z M1314 170h1v18h-1z M1313 184h1v1h-1z M1315 173h1v1h-1z M1317 165h1v10h-1z M1316 173h1v1h-1z M1318 168h1v1h-1z M1319 161h1v11h-1z M1318 168h1v1h-1z M1320 165h1v1h-1z M1325 161h1v13h-1z M1324 169h1v1h-1z M1326 163h1v1h-1z M1328 156h1v8h-1z M1327 163h1v1h-1z M1329 157h1v1h-1z M1331 150h1v8h-1z M1330 157h1v1h-1z M1332 152h1v1h-1z M1334 147h1v8h-1z M1333 152h1v1h-1z M1335 150h1v1h-1z M1340 151h1v15h-1z M1339 160h1v1h-1z M1341 153h1v1h-1z M1343 144h1v8h-1z M1342 151h1v1h-1z M1344 147h1v1h-1z M1349 142h1v8h-1z M1348 149h1v1h-1z M1350 145h1v1h-1z M1355 136h1v9h-1z M1354 144h1v1h-1z M1356 137h1v1h-1z M1358 130h1v6h-1z M1357 135h1v1h-1z M1359 132h1v1h-1z M1361 129h1v6h-1z M1360 132h1v1h-1z M1362 131h1v1h-1z M1364 125h1v10h-1z M1363 131h1v1h-1z M1365 128h1v1h-1z M1370 122h1v7h-1z M1369 128h1v1h-1z M1371 124h1v1h-1z M1373 121h1v6h-1z M1372 124h1v1h-1z M1374 123h1v1h-1z M1376 117h1v12h-1z M1375 123h1v1h-1z M1377 120h1v1h-1z M1388 118h1v9h-1z M1387 126h1v1h-1z M1389 121h1v1h-1z M1391 117h1v15h-1z M1390 121h1v1h-1z M1392 120h1v1h-1z M1393 116h1v7h-1z M1392 120h1v1h-1z M1394 117h1v1h-1z M1396 116h1v3h-1z M1395 117h1v1h-1z M1397 116h1v1h-1z M1399 108h1v10h-1z M1398 116h1v1h-1z M1400 110h1v1h-1z M1402 103h1v7h-1z M1401 109h1v1h-1z M1403 104h1v1h-1z M1405 101h1v5h-1z M1404 104h1v1h-1z M1406 102h1v1h-1z M1408 98h1v4h-1z M1407 101h1v1h-1z M1409 99h1v1h-1z M1411 88h1v10h-1z M1410 97h1v1h-1z M1412 91h1v1h-1z M1417 87h1v7h-1z M1416 92h1v1h-1z M1418 89h1v1h-1z M1420 82h1v10h-1z M1419 89h1v1h-1z M1421 86h1v1h-1z M1426 83h1v15h-1z M1425 94h1v1h-1z M1427 86h1v1h-1z M1429 82h1v8h-1z M1428 86h1v1h-1z M1430 84h1v1h-1z M1432 80h1v7h-1z M1431 84h1v1h-1z M1433 82h1v1h-1z M1435 76h1v9h-1z M1434 82h1v1h-1z M1436 79h1v1h-1z M1441 79h1v27h-1z M1440 100h1v1h-1z M1442 83h1v1h-1z M1444 74h1v12h-1z M1443 83h1v1h-1z M1445 78h1v1h-1z M1447 70h1v14h-1z M1446 78h1v1h-1z M1448 72h1v1h-1z M1450 65h1v7h-1z M1449 71h1v1h-1z M1451 66h1v1h-1z M1453 58h1v4h-1z M1452 61h1v1h-1z M1454 59h1v1h-1z M1459 54h1v7h-1z M1458 59h1v1h-1z M1460 56h1v1h-1z M1470 59h1v17h-1z M1469 70h1v1h-1z M1471 63h1v1h-1z M1473 60h1v8h-1z M1472 63h1v1h-1z M1474 62h1v1h-1z M1476 59h1v5h-1z M1475 62h1v1h-1z M1477 60h1v1h-1z M1482 52h1v13h-1z M1481 60h1v1h-1z M1483 54h1v1h-1z M1485 46h1v6h-1z M1484 51h1v1h-1z M1486 48h1v1h-1z M1491 40h1v10h-1z M1490 49h1v1h-1z M1492 42h1v1h-1z M1494 36h1v7h-1z M1493 42h1v1h-1z M1495 38h1v1h-1z M1500 40h1v14h-1z M1499 42h1v1h-1z M1501 41h1v1h-1z" fill="#006600"/>
<path d="M20 616h1v20h-1z M19 620h1v1h-1z M21 632h1v1h-1z M23 627h1v10h-1z M22 632h1v1h-1z M24 633h1v1h-1z M29 611h1v8h-1z M28 615h1v1h-1z M30 615h1v1h-1z M35 603h1v13h-1z M34 607h1v1h-1z M36 615h1v1h-1z M38 616h1v8h-1z M37 616h1v1h-1z M39 621h1v1h-1z M44 613h1v7h-1z M43 617h1v1h-1z M45 618h1v1h-1z M50 616h1v11h-1z M49 616h1v1h-1z M51 622h1v1h-1z M53 614h1v8h-1z M52 621h1v1h-1z M54 621h1v1h-1z M55 619h1v11h-1z M54 621h1v1h-1z M56 629h1v1h-1z M58 627h1v25h-1z M57 629h1v1h-1z M59 647h1v1h-1z M79 595h1v16h-1z M78 603h1v1h-1z M80 603h1v1h-1z M91 581h1v13h-1z M90 581h1v1h-1z M92 590h1v1h-1z M97 583h1v3h-1z M96 585h1v1h-1z M98 585h1v1h-1z M100 583h1v22h-1z M99 585h1v1h-1z M101 600h1v1h-1z M103 594h1v10h-1z M102 600h1v1h-1z M104 601h1v1h-1z M106 597h1v17h-1z M105 601h1v1h-1z M107 613h1v1h-1z M109 614h1v23h-1z M108 614h1v1h-1z M110 627h1v1h-1z M124 592h1v9h-1z M123 595h1v1h-1z M125 596h1v1h-1z M132 579h1v5h-1z M131 581h1v1h-1z M133 583h1v1h-1z M135 580h1v14h-1z M134 583h1v1h-1z M136 591h1v1h-1z M138 587h1v12h-1z M137 591h1v1h-1z M139 598h1v1h-1z M141 599h1v9h-1z M140 599h1v1h-1z M142 603h1v1h-1z M153 593h1v15h-1z M152 594h1v1h-1z M154 603h1v1h-1z M168 585h1v9h-1z M167 587h1v1h-1z M169 592h1v1h-1z M171 590h1v12h-1z M170 592h1v1h-1z M172 599h1v1h-1z M174 596h1v14h-1z M173 599h1v1h-1z M175 604h1v1h-1z M180 598h1v7h-1z M179 600h1v1h-1z M181 602h1v1h-1z M186 597h1v4h-1z M185 598h1v1h-1z M187 599h1v1h-1z M189 597h1v14h-1z M188 599h1v1h-1z M190 609h1v1h-1z M192 630h1v7h-1z M191 630h1v1h-1z M193 634h1v1h-1z M206 581h1v8h-1z M205 583h1v1h-1z M207 587h1v1h-1z M209 585h1v8h-1z M208 587h1v1h-1z M210 590h1v1h-1z M215 571h1v18h-1z M214 581h1v1h-1z M216 585h1v1h-1z M221 581h1v10h-1z M220 584h1v1h-1z M222 588h1v1h-1z M224 584h1v15h-1z M223 588h1v1h-1z M225 597h1v1h-1z M227 596h1v22h-1z M226 597h1v1h-1z M228 608h1v1h-1z M239 590h1v11h-1z M238 596h1v1h-1z M240 597h1v1h-1z M251 564h1v12h-1z M250 572h1v1h-1z M252 574h1v1h-1z M254 572h1v17h-1z M253 574h1v1h-1z M255 584h1v1h-1z M257 576h1v16h-1z M256 584h1v1h-1z M258 589h1v1h-1z M260 585h1v12h-1z M259 589h1v1h-1z M261 595h1v1h-1z M263 593h1v24h-1z M262 595h1v1h-1z M264 609h1v1h-1z M269 599h1v20h-1z M268 605h1v1h-1z M270 614h1v1h-1z M292 577h1v15h-1z M291 578h1v1h-1z M293 589h1v1h-1z M295 585h1v7h-1z M294 589h1v1h-1z M296 590h1v1h-1z M301 578h1v9h-1z M300 585h1v1h-1z M302 585h1v1h-1z M313 559h1v8h-1z M312 566h1v1h-1z M314 564h1v1h-1z M325 536h1v18h-1z M324 541h1v1h-1z M326 548h1v1h-1z M334 537h1v10h-1z M333 538h1v1h-1z M335 542h1v1h-1z M352 510h1v8h-1z M351 514h1v1h-1z M353 515h1v1h-1z M369 467h1v52h-1z M368 467h1v1h-1z M370 501h1v1h-1z M375 484h1v29h-1z M374 490h1v1h-1z M376 507h1v1h-1z M378 500h1v13h-1z M377 507h1v1h-1z M379 511h1v1h-1z M381 512h1v28h-1z M380 512h1v1h-1z M382 532h1v1h-1z M387 532h1v30h-1z M386 532h1v1h-1z M388 554h1v1h-1z M390 541h1v43h-1z M389 554h1v1h-1z M391 575h1v1h-1z M393 567h1v41h-1z M392 575h1v1h-1z M394 599h1v1h-1z M396 590h1v20h-1z M395 599h1v1h-1z M397 608h1v1h-1z M399 609h1v47h-1z M398 609h1v1h-1z M400 639h1v1h-1z M405 610h1v16h-1z M404 615h1v1h-1z M406 623h1v1h-1z M408 619h1v23h-1z M407 623h1v1h-1z M409 632h1v1h-1z M414 572h1v18h-1z M413 589h1v1h-1z M415 586h1v1h-1z M423 574h1v15h-1z M422 576h1v1h-1z M424 585h1v1h-1z M426 579h1v16h-1z M425 585h1v1h-1z M427 588h1v1h-1z M431 573h1v11h-1z M430 579h1v1h-1z M432 579h1v1h-1z M458 525h1v10h-1z M457 525h1v1h-1z M459 532h1v1h-1z M461 523h1v23h-1z M460 532h1v1h-1z M462 542h1v1h-1z M464 541h1v27h-1z M463 542h1v1h-1z M465 562h1v1h-1z M467 553h1v29h-1z M466 562h1v1h-1z M468 571h1v1h-1z M479 541h1v15h-1z M478 543h1v1h-1z M480 553h1v1h-1z M482 550h1v12h-1z M481 553h1v1h-1z M483 556h1v1h-1z M488 540h1v6h-1z M487 543h1v1h-1z M489 545h1v1h-1z M491 542h1v5h-1z M490 545h1v1h-1z M492 545h1v1h-1z M494 543h1v28h-1z M493 545h1v1h-1z M495 562h1v1h-1z M500 551h1v8h-1z M499 556h1v1h-1z M501 557h1v1h-1z M502 554h1v11h-1z M501 557h1v1h-1z M503 562h1v1h-1z M511 558h1v16h-1z M510 558h1v1h-1z M512 571h1v1h-1z M514 568h1v13h-1z M513 571h1v1h-1z M515 578h1v1h-1z M532 546h1v8h-1z M531 550h1v1h-1z M533 552h1v1h-1z M535 550h1v7h-1z M534 552h1v1h-1z M536 554h1v1h-1z M544 544h1v5h-1z M543 546h1v1h-1z M545 547h1v1h-1z M568 515h1v21h-1z M567 515h1v1h-1z M569 532h1v1h-1z M585 527h1v9h-1z M584 528h1v1h-1z M586 531h1v1h-1z M591 522h1v8h-1z M590 524h1v1h-1z M592 528h1v1h-1z M594 525h1v8h-1z M593 528h1v1h-1z M595 531h1v1h-1z M597 528h1v5h-1z M596 531h1v1h-1z M598 531h1v1h-1z M600 529h1v9h-1z M599 531h1v1h-1z M601 534h1v1h-1z M624 494h1v8h-1z M623 499h1v1h-1z M625 499h1v1h-1z M630 489h1v8h-1z M629 492h1v1h-1z M631 494h1v1h-1z M639 489h1v4h-1z M638 491h1v1h-1z M640 492h1v1h-1z M645 484h1v5h-1z M644 486h1v1h-1z M646 488h1v1h-1z M648 488h1v7h-1z M647 489h1v1h-1z M649 493h1v1h-1z M650 489h1v8h-1z M649 493h1v1h-1z M651 493h1v1h-1z M683 433h1v9h-1z M682 437h1v1h-1z M684 439h1v1h-1z M686 433h1v9h-1z M685 439h1v1h-1z M687 440h1v1h-1z M692 436h1v9h-1z M691 439h1v1h-1z M693 441h1v1h-1z M698 433h1v12h-1z M697 437h1v1h-1z M699 443h1v1h-1z M701 444h1v9h-1z M700 444h1v1h-1z M702 449h1v1h-1z M722 409h1v9h-1z M721 416h1v1h-1z M723 415h1v1h-1z M727 408h1v13h-1z M726 411h1v1h-1z M728 417h1v1h-1z M733 413h1v12h-1z M732 415h1v1h-1z M734 422h1v1h-1z M751 403h1v5h-1z M750 404h1v1h-1z M752 407h1v1h-1z M754 406h1v24h-1z M753 407h1v1h-1z M755 423h1v1h-1z M784 386h1v3h-1z M783 387h1v1h-1z M785 387h1v1h-1z M790 380h1v10h-1z M789 385h1v1h-1z M791 386h1v1h-1z M798 375h1v9h-1z M797 379h1v1h-1z M799 382h1v1h-1z M801 380h1v8h-1z M800 382h1v1h-1z M802 387h1v1h-1z M804 385h1v13h-1z M803 387h1v1h-1z M805 395h1v1h-1z M813 384h1v6h-1z M812 388h1v1h-1z M814 388h1v1h-1z M819 381h1v9h-1z M818 384h1v1h-1z M820 387h1v1h-1z M822 383h1v10h-1z M821 387h1v1h-1z M823 388h1v1h-1z M834 378h1v6h-1z M833 378h1v1h-1z M835 382h1v1h-1z M837 377h1v11h-1z M836 382h1v1h-1z M838 386h1v1h-1z M840 385h1v9h-1z M839 386h1v1h-1z M841 392h1v1h-1z M843 388h1v10h-1z M842 392h1v1h-1z M844 396h1v1h-1z M846 392h1v11h-1z M845 396h1v1h-1z M847 400h1v1h-1z M849 396h1v21h-1z M848 400h1v1h-1z M850 408h1v1h-1z M861 378h1v9h-1z M860 384h1v1h-1z M862 385h1v1h-1z M864 381h1v11h-1z M863 385h1v1h-1z M865 389h1v1h-1z M872 376h1v7h-1z M871 380h1v1h-1z M873 380h1v1h-1z M881 369h1v15h-1z M880 375h1v1h-1z M882 381h1v1h-1z M884 377h1v12h-1z M883 381h1v1h-1z M885 385h1v1h-1z M890 375h1v22h-1z M889 383h1v1h-1z M891 391h1v1h-1z M893 384h1v13h-1z M892 391h1v1h-1z M894 393h1v1h-1z M896 386h1v11h-1z M895 393h1v1h-1z M897 395h1v1h-1z M899 393h1v27h-1z M898 395h1v1h-1z M900 414h1v1h-1z M911 385h1v12h-1z M910 390h1v1h-1z M912 393h1v1h-1z M923 372h1v7h-1z M922 375h1v1h-1z M924 377h1v1h-1z M929 374h1v9h-1z M928 377h1v1h-1z M930 381h1v1h-1z M932 379h1v6h-1z M931 381h1v1h-1z M933 384h1v1h-1z M935 381h1v10h-1z M934 384h1v1h-1z M936 389h1v1h-1z M938 385h1v10h-1z M937 389h1v1h-1z M939 393h1v1h-1z M941 391h1v12h-1z M940 393h1v1h-1z M942 398h1v1h-1z M949 383h1v15h-1z M948 387h1v1h-1z M950 393h1v1h-1z M955 386h1v7h-1z M954 389h1v1h-1z M956 391h1v1h-1z M961 383h1v12h-1z M960 387h1v1h-1z M962 391h1v1h-1z M964 382h1v22h-1z M963 391h1v1h-1z M965 396h1v1h-1z M979 372h1v8h-1z M978 376h1v1h-1z M980 378h1v1h-1z M982 376h1v18h-1z M981 378h1v1h-1z M983 389h1v1h-1z M988 385h1v12h-1z M987 387h1v1h-1z M989 393h1v1h-1z M991 386h1v10h-1z M990 393h1v1h-1z M992 393h1v1h-1z M1012 351h1v15h-1z M1011 354h1v1h-1z M1013 363h1v1h-1z M1015 359h1v10h-1z M1014 363h1v1h-1z M1016 365h1v1h-1z M1029 346h1v6h-1z M1028 350h1v1h-1z M1030 350h1v1h-1z M1041 316h1v10h-1z M1040 320h1v1h-1z M1042 322h1v1h-1z M1056 287h1v46h-1z M1055 290h1v1h-1z M1057 319h1v1h-1z M1065 306h1v9h-1z M1064 309h1v1h-1z M1066 311h1v1h-1z M1083 282h1v12h-1z M1082 287h1v1h-1z M1084 288h1v1h-1z M1089 276h1v23h-1z M1088 281h1v1h-1z M1090 294h1v1h-1z M1097 275h1v8h-1z M1096 280h1v1h-1z M1098 280h1v1h-1z M1112 265h1v7h-1z M1111 268h1v1h-1z M1113 270h1v1h-1z M1130 251h1v12h-1z M1129 258h1v1h-1z M1131 260h1v1h-1z M1133 255h1v8h-1z M1132 260h1v1h-1z M1134 260h1v1h-1z M1139 252h1v9h-1z M1138 255h1v1h-1z M1140 257h1v1h-1z M1174 187h1v16h-1z M1173 190h1v1h-1z M1175 196h1v1h-1z M1183 175h1v22h-1z M1182 179h1v1h-1z M1184 189h1v1h-1z M1195 159h1v11h-1z M1194 164h1v1h-1z M1196 166h1v1h-1z M1201 157h1v16h-1z M1200 162h1v1h-1z M1202 167h1v1h-1z M1204 158h1v11h-1z M1203 167h1v1h-1z M1205 165h1v1h-1z M1213 161h1v18h-1z M1212 165h1v1h-1z M1214 172h1v1h-1z M1219 164h1v26h-1z M1218 166h1v1h-1z M1220 180h1v1h-1z M1228 166h1v14h-1z M1227 168h1v1h-1z M1229 178h1v1h-1z M1231 175h1v21h-1z M1230 178h1v1h-1z M1232 190h1v1h-1z M1237 180h1v17h-1z M1236 186h1v1h-1z M1238 189h1v1h-1z M1248 163h1v7h-1z M1247 168h1v1h-1z M1249 168h1v1h-1z M1254 166h1v7h-1z M1253 168h1v1h-1z M1255 170h1v1h-1z M1260 161h1v6h-1z M1259 164h1v1h-1z M1261 166h1v1h-1z M1263 164h1v7h-1z M1262 166h1v1h-1z M1264 168h1v1h-1z M1284 148h1v7h-1z M1283 151h1v1h-1z M1285 151h1v1h-1z M1293 138h1v11h-1z M1292 143h1v1h-1z M1294 146h1v1h-1z M1296 144h1v13h-1z M1295 146h1v1h-1z M1297 153h1v1h-1z M1299 145h1v15h-1z M1298 153h1v1h-1z M1300 157h1v1h-1z M1302 154h1v12h-1z M1301 157h1v1h-1z M1303 164h1v1h-1z M1305 162h1v35h-1z M1304 164h1v1h-1z M1306 189h1v1h-1z M1308 178h1v31h-1z M1307 189h1v1h-1z M1309 195h1v1h-1z M1322 159h1v14h-1z M1321 165h1v1h-1z M1323 169h1v1h-1z M1337 148h1v17h-1z M1336 150h1v1h-1z M1338 160h1v1h-1z M1346 144h1v10h-1z M1345 147h1v1h-1z M1347 150h1v1h-1z M1352 142h1v9h-1z M1351 145h1v1h-1z M1353 146h1v1h-1z M1367 125h1v7h-1z M1366 128h1v1h-1z M1368 129h1v1h-1z M1379 116h1v7h-1z M1378 120h1v1h-1z M1380 120h1v1h-1z M1382 116h1v3h-1z M1381 118h1v1h-1z M1383 118h1v1h-1z M1385 117h1v15h-1z M1384 118h1v1h-1z M1386 126h1v1h-1z M1414 82h1v13h-1z M1413 91h1v1h-1z M1415 92h1v1h-1z M1423 82h1v19h-1z M1422 86h1v1h-1z M1424 94h1v1h-1z M1438 73h1v44h-1z M1437 79h1v1h-1z M1439 100h1v1h-1z M1456 56h1v5h-1z M1455 59h1v1h-1z M1457 59h1v1h-1z M1462 54h1v11h-1z M1461 56h1v1h-1z M1463 62h1v1h-1z M1465 57h1v16h-1z M1464 62h1v1h-1z M1466 68h1v1h-1z M1467 59h1v17h-1z M1466 68h1v1h-1z M1468 70h1v1h-1z M1479 57h1v5h-1z M1478 60h1v1h-1z M1480 60h1v1h-1z M1488 46h1v6h-1z M1487 48h1v1h-1z M1489 50h1v1h-1z M1497 36h1v8h-1z M1496 38h1v1h-1z M1498 42h1v1h-1z" fill="#d6003a"/>
<path d="M17 613h1v11h-1z M16 619h1v1h-1z M18 620h1v1h-1z" fill="#000"/>
<line x1="366.4" y1="458.9" x2="1508.75" y2="43.25" stroke="#e05a5a" stroke-width="2.3"/>
<line x1="399.7" y1="658.2" x2="1490.8" y2="249.9" stroke="#e05a5a" stroke-width="2.3"/>
<line x1="411.8" y1="651.9" x2="1519.5" y2="172.0" stroke="#5b95e5" stroke-width="2.3"/>
<line x1="1103.9" y1="195.3" x2="1494.5" y2="35.0" stroke="#5b95e5" stroke-width="2.3"/>
<line x1="989.0" y1="398.1" x2="1518.75" y2="73.25" stroke="#8800ff" stroke-width="2.6"/>
<path d="M1194 107.9H1202V116.30000000000001H1205.8L1198 124.10000000000001L1190.2 116.30000000000001H1194Z" fill="#ff0000"/>
<path d="M792 316.8H800V325.2H803.8L796 333.0L788.2 325.2H792Z" fill="#000"/>
<path d="M597 554.2L604.8 561.9000000000001H601V570.0H593V561.9000000000001H589.2Z" fill="#000"/>
<path d="M1308 236.0L1315.8 243.7H1312V251.8H1304V243.7H1300.2Z" fill="#000"/>
<path d="M991 408.1L998.8 415.8H995V423.90000000000003H987V415.8H983.2Z" fill="#ff0000"/>
<rect x="17" y="29" width="172" height="12" fill="#fff"/>
<path d="M20 31h1v6h-1z M19 32h1v1h-1z M21 35h1v1h-1z M23 34h1v6h-1z M22 38h1v1h-1z M24 38h1v1h-1z M26 31h1v7h-1z M25 36h1v1h-1z M27 34h1v1h-1z" fill="#006600"/>
<text x="31.5" y="39" font-family="Liberation Mono" font-size="10" fill="#000" style="font-family:'Liberation Mono',monospace">$INDU (Quarterly) 42654.74</text>
<g font-size="9.9" fill="#000">
<text x="1528.22" y="624.8" textLength="20.08" lengthAdjust="spacingAndGlyphs">62.5</text>
<text x="1522.48" y="563.1" textLength="25.82" lengthAdjust="spacingAndGlyphs">125.0</text>
<text x="1522.48" y="501.4" textLength="25.82" lengthAdjust="spacingAndGlyphs">250.0</text>
<text x="1522.48" y="439.7" textLength="25.82" lengthAdjust="spacingAndGlyphs">500.0</text>
<text x="1516.75" y="316.3" textLength="31.55" lengthAdjust="spacingAndGlyphs">2000.0</text>
<text x="1516.75" y="254.6" textLength="31.55" lengthAdjust="spacingAndGlyphs">4000.0</text>
<text x="1516.75" y="218.5" textLength="31.55" lengthAdjust="spacingAndGlyphs">6000.0</text>
<text x="1516.75" y="192.9" textLength="31.55" lengthAdjust="spacingAndGlyphs">8000.0</text>
<text x="1511.01" y="173.0" textLength="37.29" lengthAdjust="spacingAndGlyphs">10000.0</text>
<text x="1511.01" y="156.8" textLength="37.29" lengthAdjust="spacingAndGlyphs">12000.0</text>
<text x="1511.01" y="143.0" textLength="37.29" lengthAdjust="spacingAndGlyphs">14000.0</text>
<text x="1511.01" y="131.2" textLength="37.29" lengthAdjust="spacingAndGlyphs">16000.0</text>
<text x="1511.01" y="120.7" textLength="37.29" lengthAdjust="spacingAndGlyphs">18000.0</text>
<text x="1511.01" y="111.3" textLength="37.29" lengthAdjust="spacingAndGlyphs">20000.0</text>
<text x="1511.01" y="102.8" textLength="37.29" lengthAdjust="spacingAndGlyphs">22000.0</text>
<text x="1511.01" y="95.1" textLength="37.29" lengthAdjust="spacingAndGlyphs">24000.0</text>
<text x="1511.01" y="87.9" textLength="37.29" lengthAdjust="spacingAndGlyphs">26000.0</text>
<text x="1511.01" y="81.3" textLength="37.29" lengthAdjust="spacingAndGlyphs">28000.0</text>
<text x="1511.01" y="75.2" textLength="37.29" lengthAdjust="spacingAndGlyphs">30000.0</text>
<text x="1511.01" y="69.5" textLength="37.29" lengthAdjust="spacingAndGlyphs">32000.0</text>
<text x="1511.01" y="64.1" textLength="37.29" lengthAdjust="spacingAndGlyphs">34000.0</text>
<text x="1511.01" y="59.0" textLength="37.29" lengthAdjust="spacingAndGlyphs">36000.0</text>
<text x="1511.01" y="54.2" textLength="37.29" lengthAdjust="spacingAndGlyphs">38000.0</text>
<text x="1511.01" y="49.6" textLength="37.29" lengthAdjust="spacingAndGlyphs">40000.0</text>
<text x="1511.01" y="45.2" textLength="37.29" lengthAdjust="spacingAndGlyphs">42000.0</text>
<text x="1511.01" y="41.1" textLength="37.29" lengthAdjust="spacingAndGlyphs">44000.0</text>
<text x="1511.01" y="37.1" textLength="37.29" lengthAdjust="spacingAndGlyphs">46000.0</text>
<text x="1511.01" y="37.0" textLength="37.29" lengthAdjust="spacingAndGlyphs">48000.0</text>
</g>
<path d="M1508.5 34.5H1555.5V45.5H1508.5L1504.5 39.5Z" fill="#fff" stroke="#000" stroke-width="1"/>
<text x="1509" y="43.8" font-size="11" font-weight="bold" fill="#000" textLength="44.5" lengthAdjust="spacingAndGlyphs">42654.74</text>
<g font-size="10" fill="#000">
<text x="34.8" y="676.5" textLength="11.4" lengthAdjust="spacingAndGlyphs">02</text>
<text x="57.8" y="676.5" textLength="11.4" lengthAdjust="spacingAndGlyphs">04</text>
<text x="81.8" y="676.5" textLength="11.4" lengthAdjust="spacingAndGlyphs">06</text>
<text x="105.8" y="676.5" textLength="11.4" lengthAdjust="spacingAndGlyphs">08</text>
<text x="128.8" y="676.5" textLength="11.4" lengthAdjust="spacingAndGlyphs">10</text>
<text x="152.8" y="676.5" textLength="11.4" lengthAdjust="spacingAndGlyphs">12</text>
<text x="176.8" y="676.5" textLength="11.4" lengthAdjust="spacingAndGlyphs">14</text>
<text x="199.8" y="676.5" textLength="11.4" lengthAdjust="spacingAndGlyphs">16</text>
<text x="223.8" y="676.5" textLength="11.4" lengthAdjust="spacingAndGlyphs">18</text>
<text x="247.8" y="676.5" textLength="11.4" lengthAdjust="spacingAndGlyphs">20</text>
<text x="270.8" y="676.5" textLength="11.4" lengthAdjust="spacingAndGlyphs">22</text>
<text x="294.8" y="676.5" textLength="11.4" lengthAdjust="spacingAndGlyphs">24</text>
<text x="318.8" y="676.5" textLength="11.4" lengthAdjust="spacingAndGlyphs">26</text>
<text x="342.8" y="676.5" textLength="11.4" lengthAdjust="spacingAndGlyphs">28</text>
<text x="365.8" y="676.5" textLength="11.4" lengthAdjust="spacingAndGlyphs">30</text>
<text x="389.8" y="676.5" textLength="11.4" lengthAdjust="spacingAndGlyphs">32</text>
<text x="413.8" y="676.5" textLength="11.4" lengthAdjust="spacingAndGlyphs">34</text>
<text x="436.8" y="676.5" textLength="11.4" lengthAdjust="spacingAndGlyphs">36</text>
<text x="460.8" y="676.5" textLength="11.4" lengthAdjust="spacingAndGlyphs">38</text>
<text x="484.8" y="676.5" textLength="11.4" lengthAdjust="spacingAndGlyphs">40</text>
<text x="507.8" y="676.5" textLength="11.4" lengthAdjust="spacingAndGlyphs">42</text>
<text x="531.8" y="676.5" textLength="11.4" lengthAdjust="spacingAndGlyphs">44</text>
<text x="555.8" y="676.5" textLength="11.4" lengthAdjust="spacingAndGlyphs">46</text>
<text x="578.8" y="676.5" textLength="11.4" lengthAdjust="spacingAndGlyphs">48</text>
<text x="602.8" y="676.5" textLength="11.4" lengthAdjust="spacingAndGlyphs">50</text>
<text x="626.8" y="676.5" textLength="11.4" lengthAdjust="spacingAndGlyphs">52</text>
<text x="649.8" y="676.5" textLength="11.4" lengthAdjust="spacingAndGlyphs">54</text>
<text x="673.8" y="676.5" textLength="11.4" lengthAdjust="spacingAndGlyphs">56</text>
<text x="697.8" y="676.5" textLength="11.4" lengthAdjust="spacingAndGlyphs">58</text>
<text x="720.8" y="676.5" textLength="11.4" lengthAdjust="spacingAndGlyphs">60</text>
<text x="744.8" y="676.5" textLength="11.4" lengthAdjust="spacingAndGlyphs">62</text>
<text x="768.8" y="676.5" textLength="11.4" lengthAdjust="spacingAndGlyphs">64</text>
<text x="791.8" y="676.5" textLength="11.4" lengthAdjust="spacingAndGlyphs">66</text>
<text x="815.8" y="676.5" textLength="11.4" lengthAdjust="spacingAndGlyphs">68</text>
<text x="839.8" y="676.5" textLength="11.4" lengthAdjust="spacingAndGlyphs">70</text>
<text x="863.8" y="676.5" textLength="11.4" lengthAdjust="spacingAndGlyphs">72</text>
<text x="886.8" y="676.5" textLength="11.4" lengthAdjust="spacingAndGlyphs">74</text>
<text x="910.8" y="676.5" textLength="11.4" lengthAdjust="spacingAndGlyphs">76</text>
<text x="934.8" y="676.5" textLength="11.4" lengthAdjust="spacingAndGlyphs">78</text>
<text x="957.8" y="676.5" textLength="11.4" lengthAdjust="spacingAndGlyphs">80</text>
<text x="981.8" y="676.5" textLength="11.4" lengthAdjust="spacingAndGlyphs">82</text>
<text x="1005.8" y="676.5" textLength="11.4" lengthAdjust="spacingAndGlyphs">84</text>
<text x="1028.8" y="676.5" textLength="11.4" lengthAdjust="spacingAndGlyphs">86</text>
<text x="1052.8" y="676.5" textLength="11.4" lengthAdjust="spacingAndGlyphs">88</text>
<text x="1076.8" y="676.5" textLength="11.4" lengthAdjust="spacingAndGlyphs">90</text>
<text x="1099.8" y="676.5" textLength="11.4" lengthAdjust="spacingAndGlyphs">92</text>
<text x="1123.8" y="676.5" textLength="11.4" lengthAdjust="spacingAndGlyphs">94</text>
<text x="1147.8" y="676.5" textLength="11.4" lengthAdjust="spacingAndGlyphs">96</text>
<text x="1170.8" y="676.5" textLength="11.4" lengthAdjust="spacingAndGlyphs">98</text>
<text x="1194.8" y="676.5" textLength="11.4" lengthAdjust="spacingAndGlyphs">00</text>
<text x="1218.8" y="676.5" textLength="11.4" lengthAdjust="spacingAndGlyphs">02</text>
<text x="1241.8" y="676.5" textLength="11.4" lengthAdjust="spacingAndGlyphs">04</text>
<text x="1265.8" y="676.5" textLength="11.4" lengthAdjust="spacingAndGlyphs">06</text>
<text x="1289.8" y="676.5" textLength="11.4" lengthAdjust="spacingAndGlyphs">08</text>
<text x="1312.8" y="676.5" textLength="11.4" lengthAdjust="spacingAndGlyphs">10</text>
<text x="1336.8" y="676.5" textLength="11.4" lengthAdjust="spacingAndGlyphs">12</text>
<text x="1360.8" y="676.5" textLength="11.4" lengthAdjust="spacingAndGlyphs">14</text>
<text x="1384.8" y="676.5" textLength="11.4" lengthAdjust="spacingAndGlyphs">16</text>
<text x="1407.8" y="676.5" textLength="11.4" lengthAdjust="spacingAndGlyphs">18</text>
<text x="1431.8" y="676.5" textLength="11.4" lengthAdjust="spacingAndGlyphs">20</text>
<text x="1455.8" y="676.5" textLength="11.4" lengthAdjust="spacingAndGlyphs">22</text>
<text x="1478.8" y="676.5" textLength="11.4" lengthAdjust="spacingAndGlyphs">24</text>
</g>
<text x="16.5" y="14" font-size="14" font-weight="bold" fill="#000" textLength="36.5" lengthAdjust="spacingAndGlyphs">$INDU</text>
<text x="57.9" y="13" font-size="11" fill="#000" textLength="144.8" lengthAdjust="spacingAndGlyphs">Dow Jones Industrial Average</text>
<text x="209.2" y="12.8" font-size="9.2" fill="#000" textLength="22.9" lengthAdjust="spacingAndGlyphs">INDX</text>
<text x="16.7" y="25.7" font-size="10" fill="#000" textLength="60.3" lengthAdjust="spacingAndGlyphs">16-May-2025</text>
<g font-size="11" fill="#000">
<text x="982" y="26" textLength="76" lengthAdjust="spacingAndGlyphs"><tspan font-weight="bold">Open</tspan> 41879.75</text>
<text x="1064.7" y="26" textLength="71.1" lengthAdjust="spacingAndGlyphs"><tspan font-weight="bold">High</tspan> 42663.68</text>
<text x="1142.8" y="26" textLength="71.4" lengthAdjust="spacingAndGlyphs"><tspan font-weight="bold">Low</tspan> 36611.78</text>
<text x="1220.8" y="26" textLength="80.1" lengthAdjust="spacingAndGlyphs"><tspan font-weight="bold">Close</tspan> 42654.74</text>
<text x="1307" y="26" textLength="72.8" lengthAdjust="spacingAndGlyphs"><tspan font-weight="bold">Volume</tspan> 22.9B</text>
<text x="1386.6" y="26" textLength="110.2" lengthAdjust="spacingAndGlyphs"><tspan font-weight="bold">Chg</tspan> +652.98 (+1.55%)</text>
</g>
<path d="M1499 25.5L1502.75 21.5L1506.5 25.5Z" fill="#444"/>
<text x="1416.6" y="12.5" font-size="9.5" fill="#555" textLength="89.8" lengthAdjust="spacingAndGlyphs">© StockCharts.com</text>
<path d="M1483.0 9.6L1491 18.5L1499 9.6L1498.1 8.1L1491 16.2L1483.8 8.1Z" fill="#ff0000"/>
<path d="M1487 0H1495V8.1H1498.1L1491 16.2L1483.8 8.1H1487Z" fill="#000"/>
<rect x="4" y="28" width="2" height="636" fill="#e05050"/>
<text x="620.8" y="138.9" font-size="10.6" fill="#000" textLength="132" lengthAdjust="spacingAndGlyphs">A SECULAR BULL MARKET</text>
<text x="620.8" y="151.9" font-size="10.6" fill="#000" textLength="152" lengthAdjust="spacingAndGlyphs">BEGAN IN JUNE 1949 AND RAN</text>
<text x="620.8" y="164.9" font-size="10.6" fill="#000" textLength="111.3" lengthAdjust="spacingAndGlyphs">TO JANUARY 0F 1966,</text>
<text x="620.8" y="177.8" font-size="10.6" fill="#000" textLength="117.3" lengthAdjust="spacingAndGlyphs">A PERIOD OF 17 YEARS</text>
<text x="620.8" y="203.8" font-size="10.6" fill="#000" textLength="128.2" lengthAdjust="spacingAndGlyphs">FROM THE PRIMARY BULL</text>
<text x="620.8" y="216.8" font-size="10.6" fill="#000" textLength="140.5" lengthAdjust="spacingAndGlyphs">MARKET LOW IN NOVEMBER</text>
<text x="620.8" y="229.8" font-size="10.6" fill="#000" textLength="149.2" lengthAdjust="spacingAndGlyphs">2008 (THE NAZ LOW) PLUS 17</text>
<text x="620.8" y="242.7" font-size="10.6" fill="#000" textLength="99.4" lengthAdjust="spacingAndGlyphs">YEARS GIVES 2025.</text>
<text x="843" y="59.9" font-size="10.6" fill="#000" textLength="135.1" lengthAdjust="spacingAndGlyphs">THE 17 YEAR CYCLE IS 204</text>
<text x="843" y="72.8" font-size="10.6" fill="#000" textLength="110.2" lengthAdjust="spacingAndGlyphs">MONTHS A KEY GANN</text>
<text x="843" y="85.7" font-size="10.6" fill="#000" textLength="54.4" lengthAdjust="spacingAndGlyphs">VIBRATION</text>
<text x="1014.7" y="471.9" font-size="10.6" fill="#ff0000" textLength="143.4" lengthAdjust="spacingAndGlyphs">FROM THE 1982 LOW TO THE</text>
<text x="1014.7" y="484.7" font-size="10.6" fill="#ff0000" textLength="153.4" lengthAdjust="spacingAndGlyphs">DECEMBER 1999 CLOSING DJIA</text>
<text x="1014.7" y="497.5" font-size="10.6" fill="#ff0000" textLength="89.3" lengthAdjust="spacingAndGlyphs">HIGH IS 17 YEARS</text>
</svg></body></html>
